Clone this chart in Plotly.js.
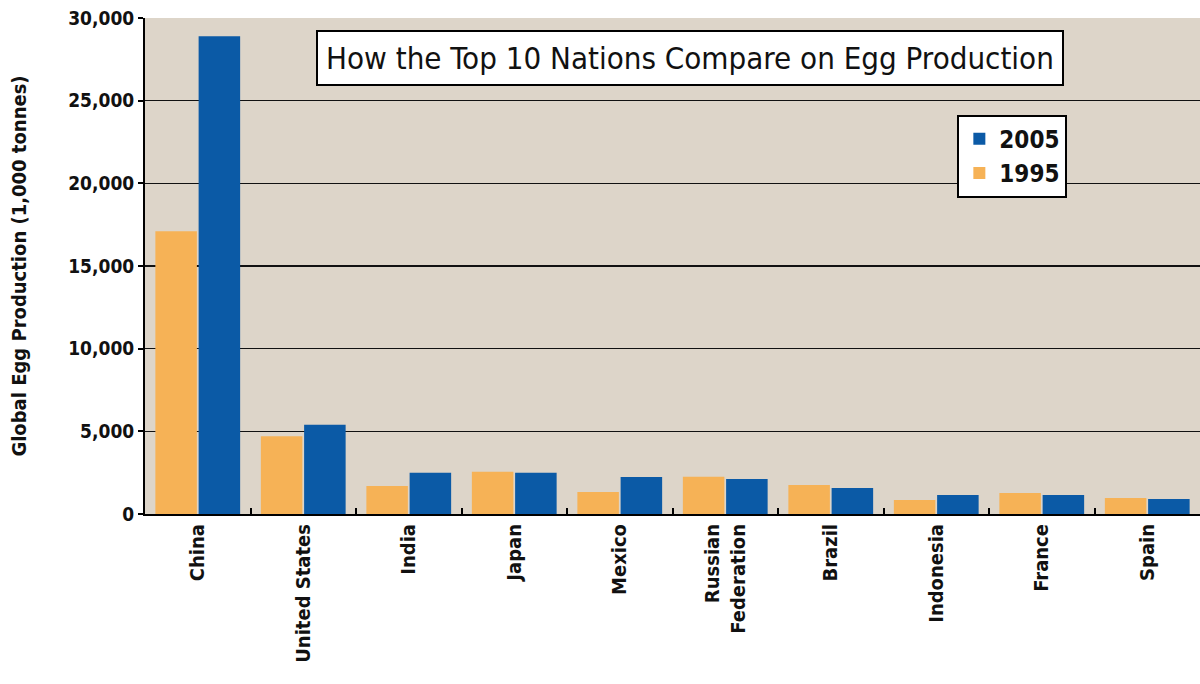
<!DOCTYPE html>
<html>
<head>
<meta charset="utf-8">
<script src="https://cdn.plot.ly/plotly-3.0.1.min.js"></script>
<style>html,body{margin:0;padding:0;background:#fff;}#chart{width:1200px;height:684px;}</style>
</head>
<body>
<div id="chart"></div>
<script>
const countries = ["China", "United States", "India", "Japan", "Mexico", "Russian<br>Federation", "Brazil", "Indonesia", "France", "Spain"];
const values1995 = [17100, 4700, 1700, 2550, 1330, 2250, 1760, 850, 1270, 970];
const values2005 = [28900, 5400, 2490, 2490, 2245, 2120, 1580, 1150, 1150, 910];
const yTickVals = [0, 5000, 10000, 15000, 20000, 25000, 30000];
const yTickText = ["0", "5,000", "10,000", "15,000", "20,000", "25,000", "30,000"];

const F = "DejaVu Sans Condensed, Liberation Sans Narrow, sans-serif";

const traces = [
  {type: "bar", name: "1995", x: countries, y: values1995, marker: {color: "#f6b256"}},
  {type: "bar", name: "2005", x: countries, y: values2005, marker: {color: "#0b5aa6"}}
];

const layout = {
  width: 1200, height: 684,
  margin: {l: 145, r: 0, t: 18, b: 170},
  paper_bgcolor: "#ffffff",
  plot_bgcolor: "#ddd5c9",
  barmode: "group",
  bargap: 0.18,
  bargroupgap: 0.04,
  showlegend: true,
  legend: {
    x: 0.77, y: 0.805, xanchor: "left", yanchor: "top",
    traceorder: "reversed",
    bgcolor: "#ffffff", bordercolor: "#000000", borderwidth: 2,
    font: {family: F, size: 24, color: "#111", weight: "bold"},
    itemwidth: 30
  },
  xaxis: {
    type: "category",
    tickangle: -90,
    tickfont: {family: F, size: 20, color: "#111", weight: "bold"},
    showline: true, linecolor: "#000", linewidth: 2,
    ticks: "inside", tickson: "boundaries", ticklen: 6, tickcolor: "#000", tickwidth: 2,
    showgrid: false, zeroline: false
  },
  yaxis: {
    range: [0, 30000],
    tickvals: yTickVals, ticktext: yTickText,
    tickfont: {family: F, size: 19, color: "#111", weight: "bold"},
    showline: true, linecolor: "#000", linewidth: 2,
    ticks: "outside", ticklen: 5, tickcolor: "#000", tickwidth: 2,
    showgrid: true, gridcolor: "#111", gridwidth: 1.5,
    zeroline: false,
    title: {text: "Global Egg Production (1,000 tonnes)", font: {family: F, size: 20, color: "#111", weight: "bold"}, standoff: 36}
  },
  annotations: [{
    xref: "paper", yref: "paper", x: 0.517, y: 0.975, xanchor: "center", yanchor: "top",
    text: "How the Top 10 Nations Compare on Egg Production",
    showarrow: false,
    font: {family: F, size: 31, color: "#111"},
    bgcolor: "#ffffff", bordercolor: "#000", borderwidth: 2, borderpad: 8
  }]
};

Plotly.newPlot("chart", traces, layout, {displayModeBar: false, staticPlot: true});
</script>
</body>
</html>
